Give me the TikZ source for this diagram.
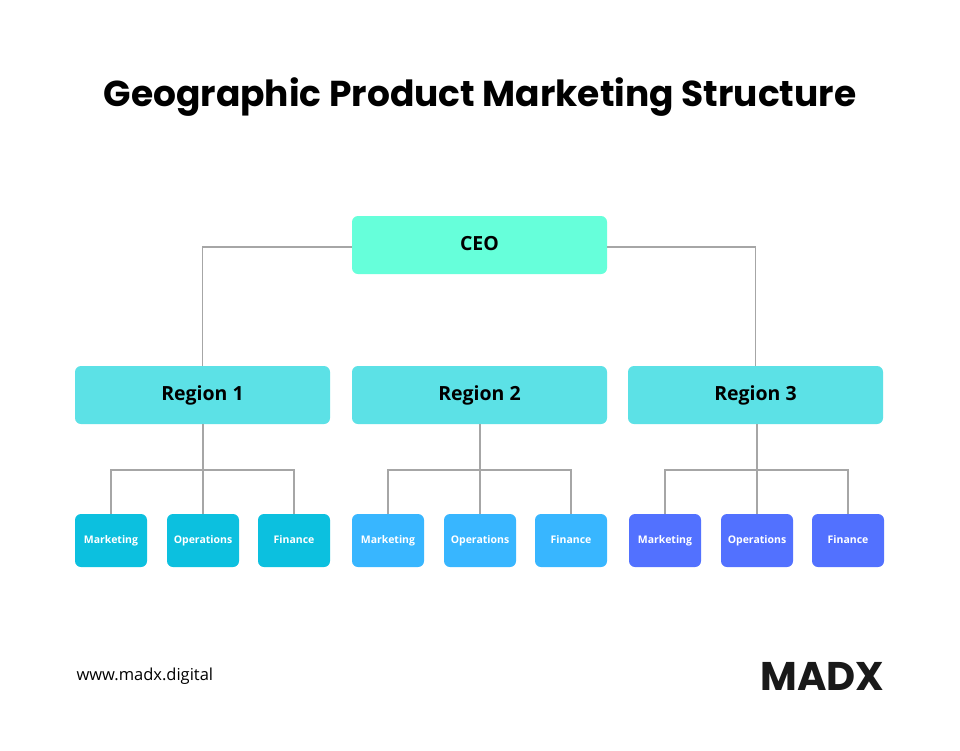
\documentclass[tikz,border=0pt]{standalone}
\usepackage{fontspec}
\setmainfont{Open Sans}
\newfontfamily\popp{Poppins}
\begin{document}
\begin{tikzpicture}[x=1pt,y=-1pt]
\definecolor{mint}{HTML}{66FFDA}
\definecolor{reg}{HTML}{5CE1E6}
\definecolor{cA}{HTML}{0CC0DF}
\definecolor{cB}{HTML}{38B6FF}
\definecolor{cC}{HTML}{5271FF}
\definecolor{ln}{HTML}{A6A6A6}
\tikzset{
 big/.style={rounded corners=6pt,minimum width=255pt,minimum height=58pt,inner sep=0pt,text height=14pt,text depth=4pt,font=\bfseries\fontsize{19.5}{23}\selectfont},
 small/.style={rounded corners=6pt,minimum width=72pt,minimum height=53pt,inner sep=0pt,text=white,text height=8pt,text depth=2pt,font=\bfseries\fontsize{10.5}{12}\selectfont},
 con/.style={draw=ln,line width=1.5pt}
}
\path[use as bounding box,fill=white] (0,0) rectangle (960,750);
\node[font=\popp\bfseries\fontsize{36}{42}\selectfont] (title) at (480,97) {Geographic Product Marketing Structure};
\node[big,fill=mint] (ceo) at (479.5,245) {CEO};
\node[big,fill=reg] (r1) at (202.5,395) {Region 1};
\node[big,fill=reg] (r2) at (479.5,395) {Region 2};
\node[big,fill=reg] (r3) at (755.5,395) {Region 3};
\draw[con] (ceo.west) ++(0,2) -| (r1.north);
\draw[con] (ceo.east) ++(0,2) -| (r3.north);
\foreach \r/\c/\xa/\xb/\xc in {r1/cA/111/203/294, r2/cB/388/480/571, r3/cC/665/757/848}{
 \node[small,fill=\c] (\r m) at (\xa,540.5) {Marketing};
 \node[small,fill=\c] (\r o) at (\xb,540.5) {Operations};
 \node[small,fill=\c] (\r f) at (\xc,540.5) {Finance};
 \coordinate (\r j) at (\xb,470);
 \draw[con] (\r o.north |- \r.south) -- (\r o.north);
 \draw[con] (\r m.north) |- (\r j) -| (\r f.north);
}
\node[anchor=west,font=\fontsize{16.5}{19}\selectfont] (url) at (73,676) {www.madx.digital};
\node[anchor=east,font=\popp\bfseries\fontsize{40}{44}\selectfont,text=black!90] (logo) at (888,676) {MADX};
\end{tikzpicture}
\end{document}
